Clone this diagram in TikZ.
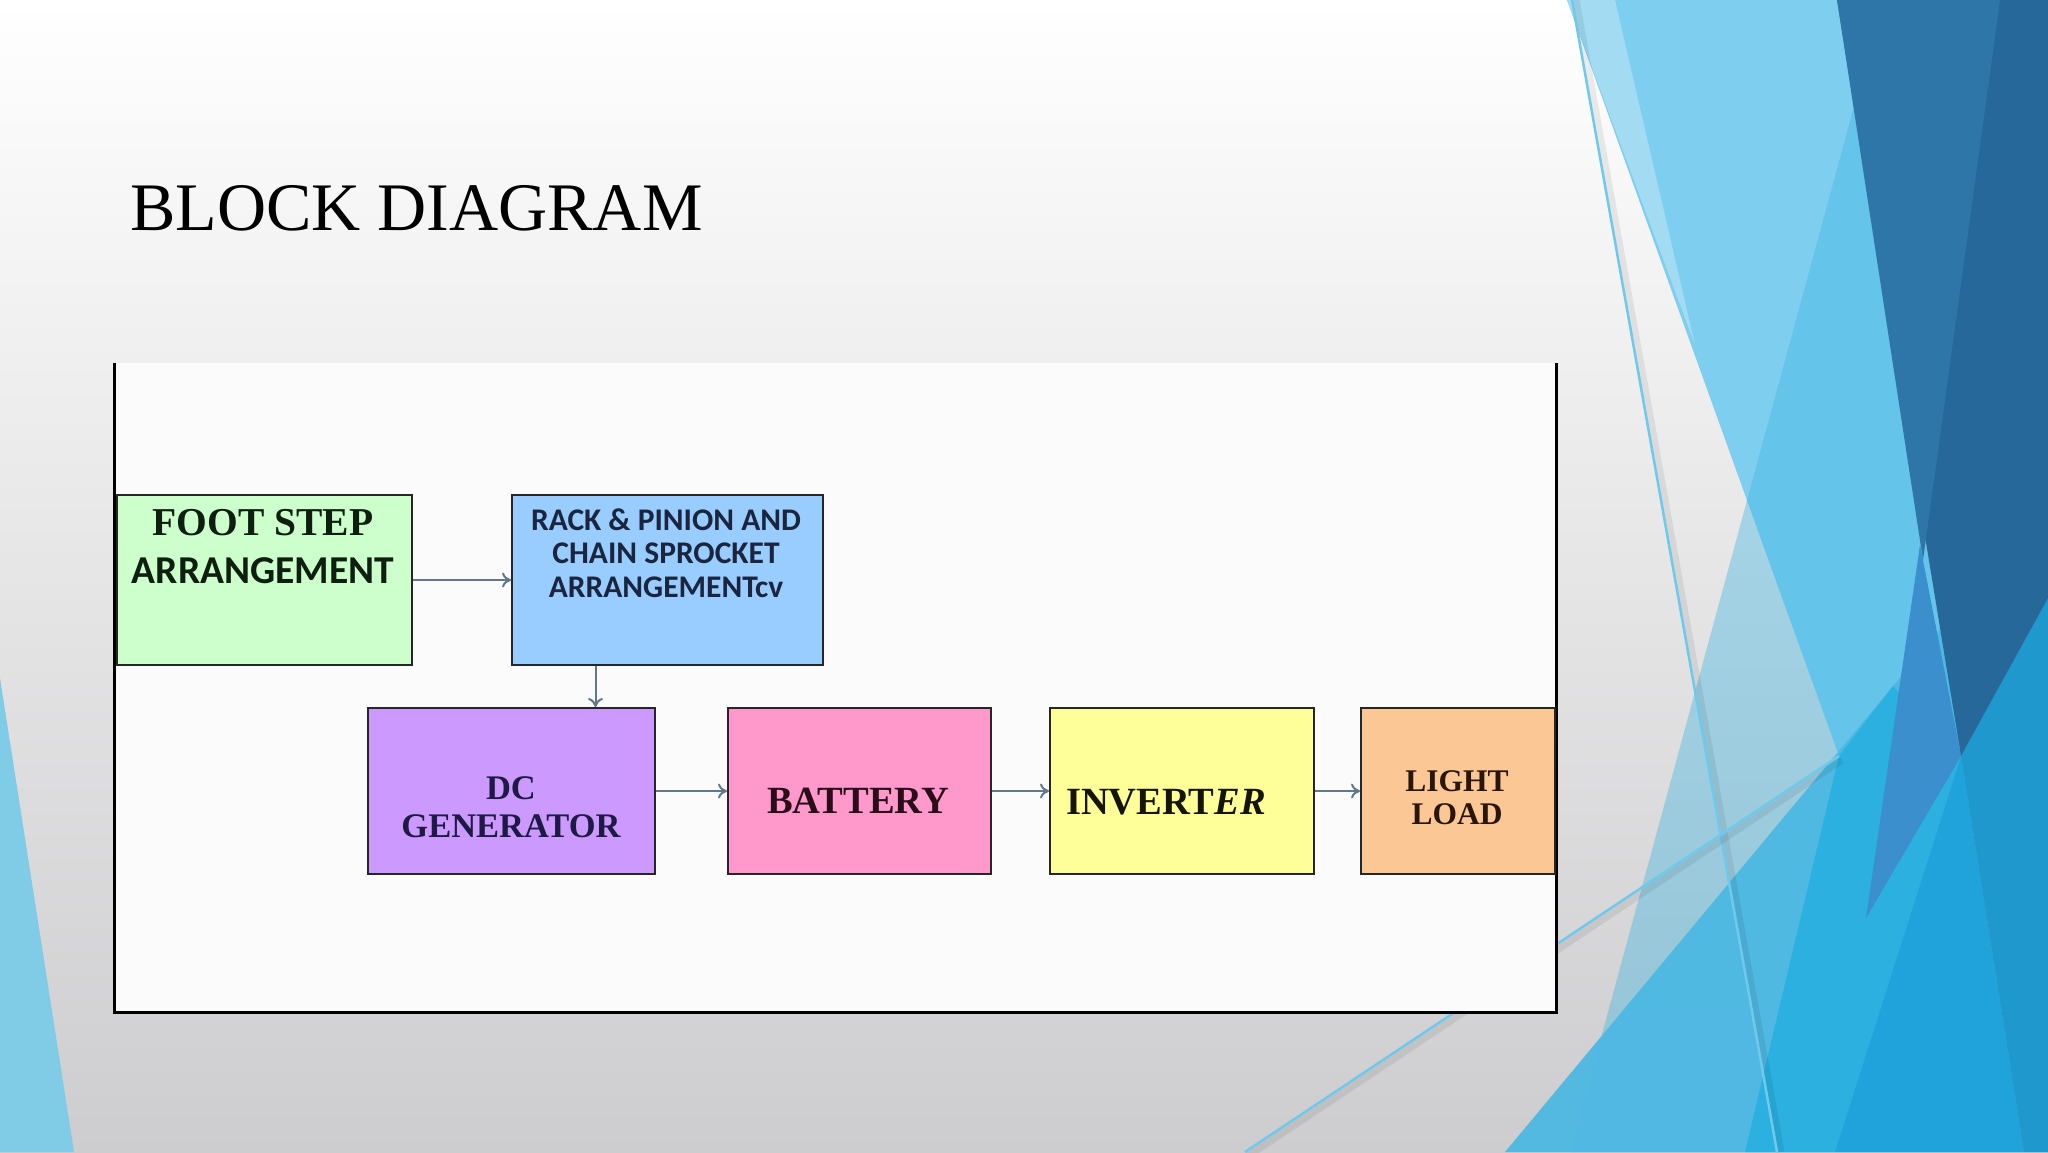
\documentclass[tikz,border=0pt]{standalone}
\usepackage{fontspec}
\setmainfont{Liberation Serif}
\newfontfamily\carl{Carlito}
\usetikzlibrary{arrows.meta,calc}
\definecolor{bgbot}{HTML}{CDCCCE}
\definecolor{bgmid}{HTML}{EBEBEC}
\definecolor{lightblue}{HTML}{7ECFEF}
\definecolor{palestrip}{HTML}{A2DBF2}
\definecolor{tablue}{HTML}{3DB5E0}
\definecolor{tbblue}{HTML}{4BB8E3}
\definecolor{peblue}{HTML}{2BB0E0}
\definecolor{pfblue}{HTML}{20A3DA}
\definecolor{pgblue}{HTML}{1E98CD}
\definecolor{midblue}{HTML}{3A8FCC}
\definecolor{darkblue}{HTML}{27689B}
\definecolor{darkblueb}{HTML}{2E76A7}
\definecolor{thinline}{HTML}{6FC9EC}
\definecolor{leftstrip}{HTML}{80CBE5}
\definecolor{framefill}{HTML}{FBFBFC}
\definecolor{footfill}{HTML}{CCFFCC}
\definecolor{rackfill}{HTML}{99CCFF}
\definecolor{dcfill}{HTML}{CC99FF}
\definecolor{batfill}{HTML}{FF99CC}
\definecolor{invfill}{HTML}{FFFF99}
\definecolor{loadfill}{HTML}{FAC795}
\definecolor{arrowc}{HTML}{60788A}
\definecolor{foottext}{HTML}{0F1F0F}
\definecolor{racktext}{HTML}{1A2540}
\definecolor{dctext}{HTML}{1E1A45}
\definecolor{battext}{HTML}{2B0D1A}
\definecolor{invtext}{HTML}{151505}
\definecolor{loadtext}{HTML}{2A1608}
\begin{document}
\begin{tikzpicture}[x=1pt,y=-1pt,
  blockbox/.style={draw=black!85,line width=2pt,inner sep=0pt,anchor=north west},
  arr/.style={draw=arrowc,line width=2pt,-{To[length=9pt,width=15pt]}},
  serifbold/.style={font=\fontsize{#1}{#1}\selectfont\bfseries,anchor=base,inner sep=0pt},
  sansbold/.style={font=\fontsize{#1}{#1}\selectfont\carl\bfseries,anchor=base,inner sep=0pt}
]
\useasboundingbox (0,0) rectangle (2048,1152);
% background
\shade[top color=white, middle color=bgmid, bottom color=bgbot] (0,0) rectangle (2048,1152);
% left strip
\fill[leftstrip] (0,678) -- (74,1152) -- (0,1152) -- cycle;
% right decoration
\fill[lightblue] (1567,0) -- (1837,0) -- (1961,756) -- (1839,756) -- cycle;
\fill[palestrip] (1567,0) -- (1615,0) -- (1695,345) -- cycle;
\fill[tablue,opacity=0.4] (1853,110) -- (1570,1152) -- (2048,1152) -- (2048,110) -- cycle;
\fill[tbblue,opacity=0.93] (1505,1152) -- (2048,500) -- (2048,1152) -- cycle;
\fill[peblue] (1839,756) -- (1893,686) -- (1961,756) -- (1835,1152) -- (1745,1152) -- cycle;
\fill[pfblue] (1961,756) -- (2024,1152) -- (1835,1152) -- cycle;
\fill[midblue] (1920,545) -- (1961,756) -- (1866,918) -- cycle;
\fill[pgblue] (1961,756) -- (2048,598) -- (2048,1152) -- (2024,1152) -- cycle;
\fill[darkblue] (1837,0) -- (2048,0) -- (2048,598) -- (1961,756) -- cycle;
\fill[darkblueb] (1837,0) -- (2000,0) -- (1923,560) -- cycle;
% thin lines with soft shadow
\draw[black,opacity=0.07,line width=7pt] (1576,0) -- (1781,1152);
\draw[thinline,line width=2.5pt] (1572,0) -- (1777,1152);
\draw[black,opacity=0.07,line width=7pt] (1248,1156) -- (1842,760);
\draw[thinline,line width=2.5pt] (1245,1152) -- (1839,756);
% title
\node[font=\fontsize{68}{68}\selectfont,anchor=base west,inner sep=0pt] (title) at (130,230) {BLOCK DIAGRAM};
% frame of the picture
\fill[framefill] (114,363) rectangle (1556,1012);
\draw[black,line width=3pt] (114,363) -- (114,1012) -- (1556,1012) -- (1556,363);
% blocks
\node[blockbox,fill=footfill,minimum width=295pt,minimum height=170pt] (foot) at (116,494) {};
\node[blockbox,fill=rackfill,minimum width=311pt,minimum height=170pt] (rack) at (511,494) {};
\node[blockbox,fill=dcfill,minimum width=287pt,minimum height=166pt] (dc) at (367,707) {};
\node[blockbox,fill=batfill,minimum width=263pt,minimum height=166pt] (bat) at (727,707) {};
\node[blockbox,fill=invfill,minimum width=264pt,minimum height=166pt] (inv) at (1049,707) {};
\node[blockbox,fill=loadfill,minimum width=194pt,minimum height=166pt] (load) at (1360,707) {};
% texts
\node[serifbold=39.5,text=foottext] (footA) at (263,535) {FOOT STEP};
\node[sansbold=39.5,text=foottext] (footB) at (263,583) {ARRANGEMENT};
\node[sansbold=31.5,text=racktext] (rackA) at (666,530) {RACK \& PINION AND};
\node[sansbold=31.5,text=racktext] (rackB) at (666,563) {CHAIN SPROCKET};
\node[sansbold=31.5,text=racktext] (rackC) at (666,597) {ARRANGEMENTcv};
\node[serifbold=34.5,text=dctext] (dcA) at (511,799) {DC};
\node[serifbold=34.5,text=dctext] (dcB) at (511,837) {GENERATOR};
\node[serifbold=38.5,text=battext] (batA) at (858,813) {BATTERY};
\node[serifbold=38.5,text=invtext] (invA) at (1166,814) {INVERT\textit{ER}};
\node[serifbold=31.5,text=loadtext] (loadA) at (1457,791) {LIGHT};
\node[serifbold=31.5,text=loadtext] (loadB) at (1457,824) {LOAD};
% connectors
\draw[arr] (foot.east) -- (rack.west);
\draw[arr] ([xshift=-72pt]rack.south) -- ([xshift=-72pt]rack.south |- dc.north);
\draw[arr] (dc.east) -- (bat.west);
\draw[arr] (bat.east) -- (inv.west);
\draw[arr] (inv.east) -- (load.west);
\end{tikzpicture}
\end{document}
